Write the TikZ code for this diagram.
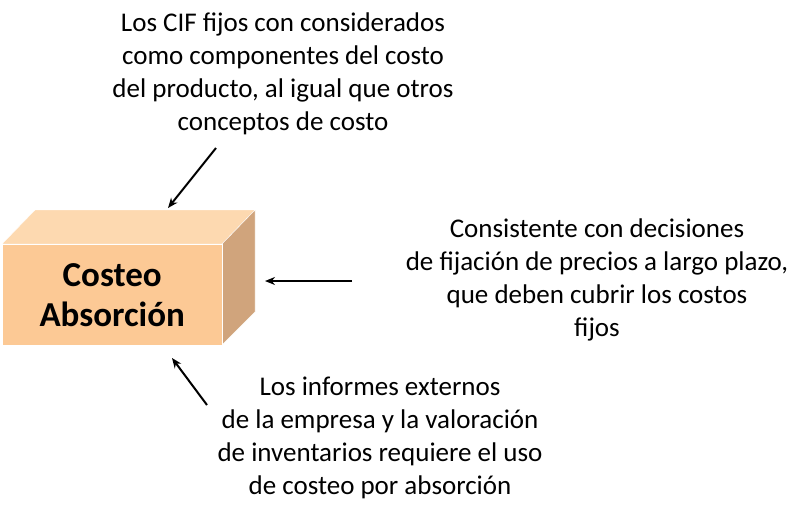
\documentclass[tikz,border=0pt]{standalone}
\usepackage{fontspec}
\setmainfont{Carlito}
\usetikzlibrary{arrows.meta}
\definecolor{front}{HTML}{FCC995}
\definecolor{topc}{HTML}{FDD9B0}
\definecolor{side}{HTML}{D0A47C}
\begin{document}
\begin{tikzpicture}[x=1pt,y=-1pt,
  txt/.style={align=center,font=\fontsize{27}{33}\selectfont,inner sep=0},
  arr/.style={-{Stealth[length=10pt,width=8pt]},line width=2pt}]
\useasboundingbox (0,0) rectangle (811,507);
\fill[fill=topc,draw=white] (2,244) -- (35,210) -- (255,210) -- (222,244) -- cycle;
\fill[fill=side,draw=white] (222,244) -- (255,210) -- (255,312) -- (222,345) -- cycle;
\node[draw=white,fill=front,minimum width=220pt,minimum height=101pt,anchor=north west,inner sep=0,
  font=\fontsize{35}{40}\selectfont\bfseries,align=center] (box) at (2,244) {Costeo\\Absorción};
\node[txt] (t1) at (283,74) {Los CIF fijos con considerados\\como componentes del costo\\del producto, al igual que otros\\conceptos de costo};
\node[txt] (t2) at (597,280) {Consistente con decisiones\\de fijación de precios a largo plazo,\\que deben cubrir los costos\\fijos};
\node[txt] (t3) at (380,438) {Los informes externos\\de la empresa y la valoración\\de inventarios requiere el uso\\de costeo por absorción};
\coordinate (a1) at (216,148); \coordinate (b1) at (168,208);
\coordinate (a2) at (352,281); \coordinate (b2) at (265,281);
\coordinate (a3) at (207,405); \coordinate (b3) at (172,358);
\draw[arr] (a1) -- (b1);
\draw[arr] (a2) -- (b2);
\draw[arr] (a3) -- (b3);
\end{tikzpicture}
\end{document}
